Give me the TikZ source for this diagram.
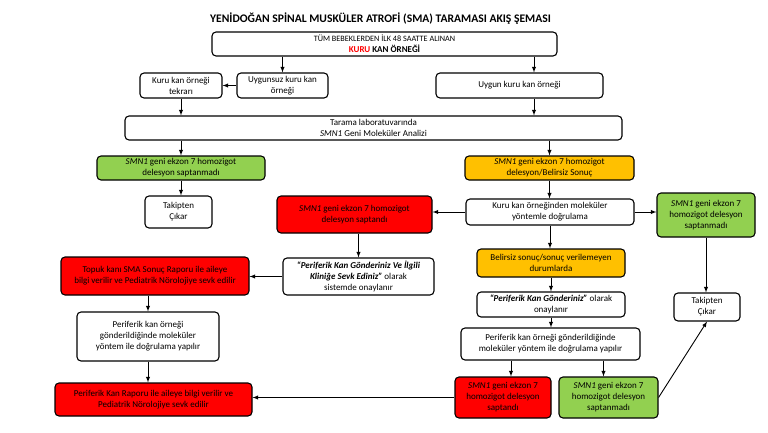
\documentclass[tikz,border=0pt]{standalone}
\usepackage{fontspec}
\setmainfont{Carlito}
\usepackage{xcolor}
\definecolor{smared}{HTML}{FF0000}
\definecolor{smagreen}{HTML}{92D050}
\definecolor{smaorange}{HTML}{FFC000}

\begin{document}
\begin{tikzpicture}[x=1pt,y=-1pt,
        box/.style={draw,rounded corners=4pt,line width=1.1pt,align=center,inner sep=1pt,
                font=\fontsize{9}{11}\selectfont},
        redbox/.style={box,fill=smared},
        greenbox/.style={box,fill=smagreen},
        orangebox/.style={box,fill=smaorange},
        arr/.style={-latex,line width=0.9pt}]
        \useasboundingbox (0,0) rectangle (768,433);
        \node[font=\bfseries\fontsize{11.6}{13}\selectfont] (title) at (380.5,19) {YENİDOĞAN SPİNAL MUSKÜLER ATROFİ (SMA) TARAMASI AKIŞ ŞEMASI};
        \node[box,minimum width=345,minimum height=24] (top) at (384.5,44) {{\fontsize{8.2}{10}\selectfont TÜM BEBEKLERDEN İLK 48 SAATTE ALINAN}\\\textbf{\textcolor{smared}{KURU} KAN ÖRNEĞİ}};
        \node[box,minimum width=91,minimum height=25] (uns) at (282.5,85.5) {Uygunsuz kuru kan\\örneği};
        \node[box,minimum width=82,minimum height=25] (tek) at (181,85.5) {Kuru kan örneği\\tekrarı};
        \node[box,minimum width=167,minimum height=25] (uyg) at (519.5,85.5) {Uygun kuru kan örneği};
        \node[box,minimum width=497,minimum height=24] (tar) at (373.5,128) {Tarama laboratuvarında\\\textit{SMN1} Geni Moleküler Analizi};
        \node[greenbox,minimum width=168,minimum height=24] (g1) at (181,168) {\textit{SMN1} geni ekzon 7 homozigot\\delesyon saptanmadı};
        \node[orangebox,minimum width=169,minimum height=24] (o1) at (549.5,168) {\textit{SMN1} geni ekzon 7 homozigot\\delesyon/Belirsiz Sonuç};
        \node[box,minimum width=67,minimum height=32] (tak1) at (178.5,212) {Takipten\\Çıkar};
        \node[box,minimum width=168,minimum height=26] (dog1) at (550,212) {Kuru kan örneğinden moleküler\\yöntemle doğrulama};
        \node[redbox,minimum width=155,minimum height=37] (r1) at (354.5,214.5) {\textit{SMN1} geni ekzon 7 homozigot\\delesyon saptandı};
        \node[greenbox,minimum width=98,minimum height=44] (g2) at (706,215) {\textit{SMN1} geni ekzon 7\\homozigot delesyon\\saptanmadı};
        \node[orangebox,minimum width=148,minimum height=28] (bel) at (551,263) {Belirsiz sonuç/sonuç verilemeyen\\durumlarda};
        \node[box,minimum width=151,minimum height=37] (ony1) at (358.5,276.5) {\textbf{\textit{“Periferik Kan Gönderiniz Ve İlgili}}\\\textbf{\textit{Kliniğe Sevk Ediniz”}} olarak\\sistemde onaylanır};
        \node[redbox,minimum width=188,minimum height=38] (r2) at (155,276) {Topuk kanı SMA Sonuç Raporu ile aileye\\bilgi verilir ve Pediatrik Nörolojiye sevk edilir};
        \node[box,minimum width=148,minimum height=25] (ony2) at (551,304.5) {\textbf{\textit{“Periferik Kan Gönderiniz”}} olarak\\onaylanır};
        \node[box,minimum width=66,minimum height=28] (tak2) at (707,307) {Takipten\\Çıkar};
        \node[box,minimum width=142,minimum height=49] (pdl) at (148,336.5) {Periferik kan örneği\\gönderildiğinde moleküler\\yöntem ile doğrulama yapılır};
        \node[box,minimum width=179,minimum height=32] (pdr) at (550.5,344) {Periferik kan örneği gönderildiğinde\\moleküler yöntem ile doğrulama yapılır};
        \node[redbox,minimum width=197,minimum height=33] (r3) at (153.5,399.5) {Periferik Kan Raporu ile aileye bilgi verilir ve\\Pediatrik Nörolojiye sevk edilir};
        \node[redbox,minimum width=96,minimum height=41] (r4) at (503,397.5) {\textit{SMN1} geni ekzon 7\\homozigot delesyon\\saptandı};
        \node[greenbox,minimum width=99,minimum height=41] (g3) at (608.5,397.5) {\textit{SMN1} geni ekzon 7\\homozigot delesyon\\saptanmadı};

        % first screening
        \draw[arr] (uns.north |- top.south) -- (uns.north);
        \draw[arr] ([xshift=14.5pt]uyg.north |- top.south) -- ([xshift=14.5pt]uyg.north);
        \draw[arr] (uns.west) -- (tek.east);
        \draw[arr] (tek.south) -- (tek.south |- tar.north);
        \draw[arr] ([xshift=14.5pt]uyg.south) -- ([xshift=14.5pt]uyg.south |- tar.north);
        \draw[arr] (g1.north |- tar.south) -- (g1.north);
        \draw[arr] (o1.north |- tar.south) -- (o1.north);
        \draw[arr] (g1.south) -- (g1.south |- tak1.north);
        \draw[arr] (o1.south) -- (o1.south |- dog1.north);
        % dried blood confirmation
        \draw[arr] (dog1.west) -- (dog1.west -| r1.east);
        \draw[arr] (dog1.east) -- (dog1.east -| g2.west);
        \draw[arr] (g2.south) -- (g2.south |- tak2.north);
        \draw[arr] (dog1.south) -- (dog1.south |- bel.north);
        \draw[arr] (ony1.north |- r1.south) -- (ony1.north);
        \draw[arr] (ony1.west) -- (ony1.west -| r2.east);
        \draw[arr] (pdl.north |- r2.south) -- (pdl.north);
        \draw[arr] (pdl.south) -- (pdl.south |- r3.north);
        % peripheral blood
        \draw[arr] (bel.south) -- (bel.south |- ony2.north);
        \draw[arr] (ony2.south) -- (ony2.south |- pdr.north);
        \draw[arr] ([xshift=8pt]r4.north |- pdr.south) -- ([xshift=8pt]r4.north);
        \draw[arr] ([xshift=-5pt]g3.north |- pdr.south) -- ([xshift=-5pt]g3.north);
        \draw[arr] (r4.west) -- (r4.west -| r3.east);
        \draw[arr] (g3.east) -- (tak2.south);
\end{tikzpicture}
\end{document}
